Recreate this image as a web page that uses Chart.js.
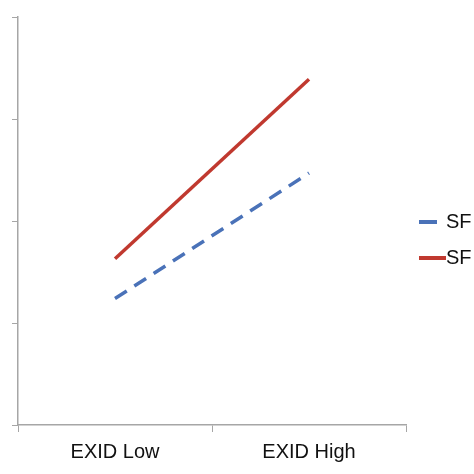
<!DOCTYPE html>
<html><head><script src="https://cdn.jsdelivr.net/npm/chart.js@4"></script>
<style>html,body{margin:0;padding:0;background:#fff;overflow:hidden}</style></head>
<body><canvas id="c" width="474" height="474" style="display:block;width:474px;height:474px"></canvas>
<script>
const categories = ["EXID Low", "EXID High"];
const seriesLabels = ["SF Low", "SF High"];
const sfLow = [1.24, 2.47];
const sfHigh = [1.63, 3.39];
const yTicks = [0, 1, 2, 3, 4];

const legendPlugin = {
  id: 'sideLegend',
  afterDraw(chart) {
    const ctx = chart.ctx;
    ctx.save();
    ctx.font = '20px "Liberation Sans", Arial, sans-serif';
    ctx.textBaseline = 'middle';
    const items = [
      {ds: chart.data.datasets[0], y: 222, x1: 419, x2: 437},
      {ds: chart.data.datasets[1], y: 258, x1: 419, x2: 446}
    ];
    items.forEach(it => {
      ctx.strokeStyle = it.ds.borderColor;
      ctx.lineWidth = 4;
      ctx.beginPath(); ctx.moveTo(it.x1, it.y); ctx.lineTo(it.x2, it.y); ctx.stroke();
      ctx.fillStyle = '#111';
      ctx.fillText(it.ds.label, 446, it.y);
    });
    ctx.restore();
  }
};

new Chart(document.getElementById('c'), {
  type: 'line',
  data: {
    labels: categories,
    datasets: [
      {label: seriesLabels[0], data: sfLow, borderColor: '#4a72b8', borderWidth: 3.5, borderDash: [14, 9], pointRadius: 0, fill: false},
      {label: seriesLabels[1], data: sfHigh, borderColor: '#c0392f', borderWidth: 3.5, pointRadius: 0, fill: false}
    ]
  },
  options: {
    responsive: false,
    animation: false,
    devicePixelRatio: 1,
    layout: {padding: {left: 12, right: 68, top: 17, bottom: 2}},
    plugins: {legend: {display: false}, tooltip: {enabled: false}},
    scales: {
      x: {
        offset: true,
        border: {color: '#a6a6a6', width: 1.5},
        grid: {drawOnChartArea: false, tickLength: 7, color: '#a6a6a6', offset: true},
        ticks: {color: '#111', font: {size: 20, family: '"Liberation Sans", Arial, sans-serif'}, padding: 8}
      },
      y: {
        min: 0, max: 4,
        afterBuildTicks: s => { s.ticks = yTicks.map(v => ({value: v})); },
        border: {color: '#a6a6a6', width: 1.5},
        grid: {drawOnChartArea: false, tickLength: 6, color: '#a6a6a6'},
        ticks: {display: false}
      }
    }
  },
  plugins: [legendPlugin]
});
</script></body></html>
